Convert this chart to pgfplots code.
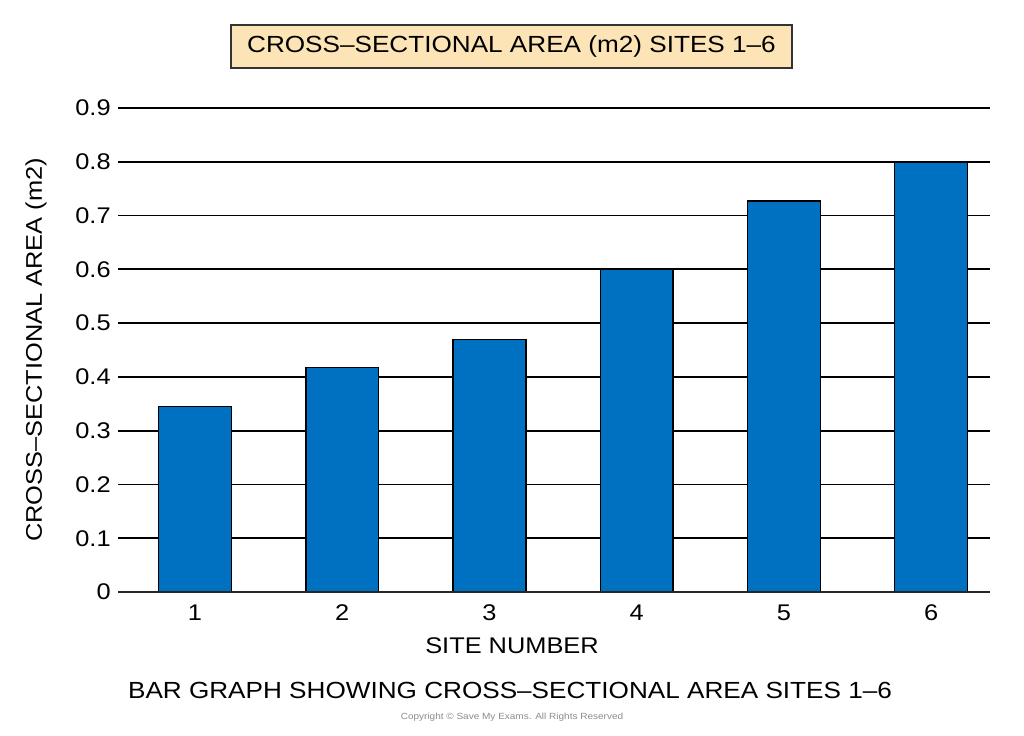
\documentclass[border=0pt]{standalone}
\usepackage{fontspec}
\setmainfont{Liberation Sans}[FakeStretch=1.12]
\usepackage{pgfplots}
\pgfplotsset{compat=1.18}
\definecolor{barblue}{RGB}{0,112,192}
\definecolor{titlefill}{RGB}{252,228,182}
\begin{document}
\begin{tikzpicture}
\path[use as bounding box] (0pt,0pt) rectangle (768pt,551.25pt);
\node[draw=black!80, line width=1pt, fill=titlefill, minimum width=420.75pt, minimum height=32.25pt, inner sep=0pt, font=\fontsize{17.5}{20}\selectfont] at (383.6pt,516.4pt) {CROSS–SECTIONAL AREA (m2) SITES 1–6};
\begin{axis}[
  at={(88.5pt,107.25pt)}, anchor=south west,
  scale only axis, width=654pt, height=363pt,
  xmin=0.477, xmax=6.40, ymin=0, ymax=0.9,
  axis line style={draw=none},
  tick style={draw=none},
  ytick={0,0.1,...,0.9},
  xtick={1,2,3,4,5,6},
  ymajorgrids, grid style={black, line width=1.4pt},
  major tick length=0pt,
  clip=false,
  /pgf/number format/assume math mode=true,
  ticklabel style={font=\fontsize{17}{20}\selectfont},
  yticklabel style={xshift=-2pt},
  yticklabel={\pgfmathprintnumber[fixed,precision=1]{\tick}},
  xticklabel style={yshift=-6pt},
]
\addplot[ybar, bar width=0.495, fill=barblue, draw=black, line width=1.1pt] coordinates {
(1,0.345) (2,0.417) (3,0.47) (4,0.6) (5,0.727) (6,0.8)};
\draw[black!85, line width=1.8pt] (axis cs:0.477,0) -- (axis cs:6.40,0);
\end{axis}
\node[font=\fontsize{17}{20}\selectfont] at (384pt,66.75pt) {SITE NUMBER};
\node[font=\fontsize{17}{20}\selectfont, rotate=90] at (27pt,288.75pt) {CROSS–SECTIONAL AREA (m2)};
\node[font=\fontsize{17.5}{20}\selectfont] at (382.5pt,33.75pt) {BAR GRAPH SHOWING CROSS–SECTIONAL AREA SITES 1–6};
\node[font=\fontsize{6.7}{8}\selectfont, text=black!45] at (384pt,13.5pt) {Copyright © Save My Exams. All Rights Reserved};
\end{tikzpicture}
\end{document}
